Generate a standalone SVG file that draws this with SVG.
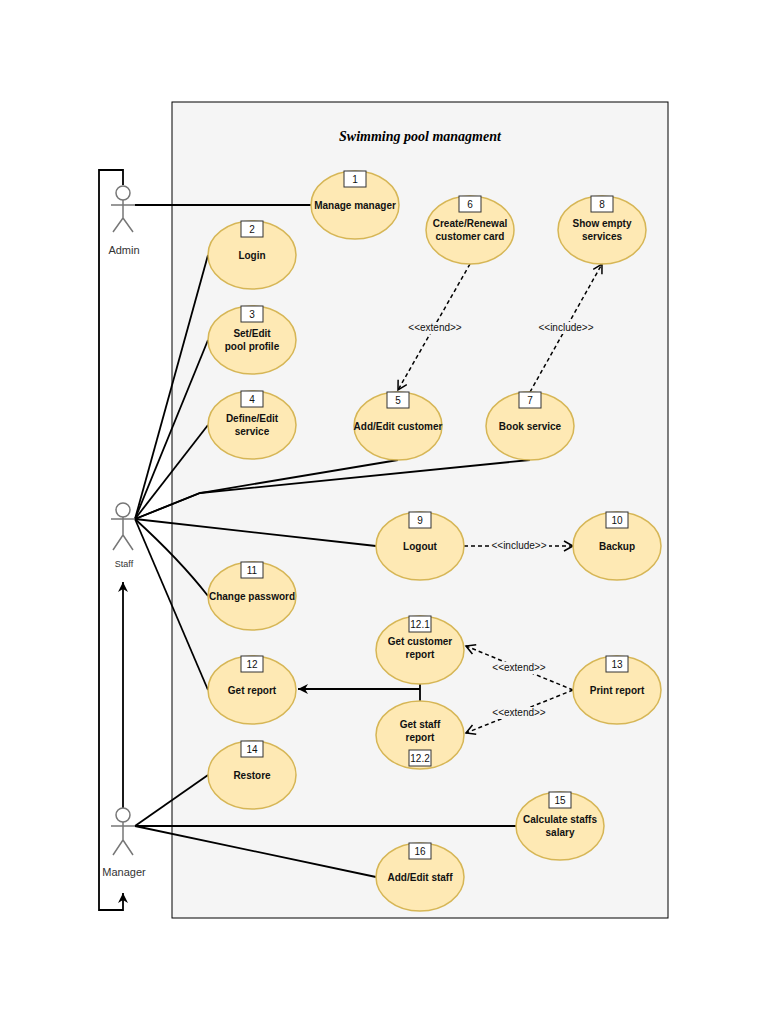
<svg xmlns="http://www.w3.org/2000/svg" width="768" height="1024" viewBox="0 0 768 1024">
<style>
.uc{fill:#ffe6a8;fill-opacity:0.85;stroke:#d6b656;stroke-width:1.5}
.nb{fill:#fff;stroke:#333;stroke-width:1}
.t{font-family:"Liberation Sans",Arial,sans-serif;font-size:10px;font-weight:bold;fill:#111;text-anchor:middle}
.n{font-family:"Liberation Sans",Arial,sans-serif;font-size:10px;fill:#111;text-anchor:middle}
.l{fill:none;stroke:#000;stroke-width:1.8}
.d{fill:none;stroke:#000;stroke-width:1.5;stroke-dasharray:4,3}
.a{stroke:#777;stroke-width:1.5;fill:none}
.al{font-family:"Liberation Sans",Arial,sans-serif;font-size:10px;fill:#111;text-anchor:middle}
</style>
<defs>
<marker id="open" markerWidth="12" markerHeight="12" refX="10" refY="6" orient="auto" markerUnits="userSpaceOnUse"><path d="M1,1 L10,6 L1,11" fill="none" stroke="#000" stroke-width="1.5"/></marker>
<marker id="fill" markerWidth="12" markerHeight="12" refX="10" refY="6" orient="auto" markerUnits="userSpaceOnUse"><path d="M0,1 L10,6 L0,11 L3,6 Z" fill="#000"/></marker>
</defs>
<rect x="172" y="102" width="496" height="816" fill="#f5f5f5" stroke="#000" stroke-width="1"/>
<text x="420" y="141" font-family="Liberation Serif,serif" font-size="14" font-weight="bold" font-style="italic" text-anchor="middle">Swimming pool managment</text>
<g id="connectors">
<path class="l" d="M123,185 V170 H99 V910 H123 V893" marker-end="url(#fill)"/>
<path class="l" d="M123,808 V582" marker-end="url(#fill)"/>
<path class="l" d="M135,205 H311"/>
<path class="l" d="M135,519 L208,255"/>
<path class="l" d="M135,519 L208,340"/>
<path class="l" d="M135,519 L208,425"/>
<path class="l" d="M135,519 L200,493 L398,460"/>
<path class="l" d="M135,519 L200,493 L530,460"/>
<path class="l" d="M135,519 L376,546"/>
<path class="l" d="M135,519 Q180,560 208,596"/>
<path class="l" d="M135,519 L208,690"/>
<path class="l" d="M135,826 L208,775"/>
<path class="l" d="M135,826 L516,826"/>
<path class="l" d="M135,826 L376,877"/>
<path class="l" d="M420,684 V701 M420,689 H298" marker-end="url(#fill)"/>
<path class="d" d="M470,264 L398,390" marker-end="url(#open)"/>
<path class="d" d="M530,392 L602,264" marker-end="url(#open)"/>
<path class="d" d="M464,546 L573,546" marker-end="url(#open)"/>
<path class="d" d="M573,690 L466,646" marker-end="url(#open)"/>
<path class="d" d="M573,690 L466,733" marker-end="url(#open)"/>
<rect x="405" y="322" width="60" height="12" fill="#f5f5f5"/><text class="al" x="435" y="331">&lt;&lt;extend&gt;&gt;</text>
<rect x="536" y="322" width="60" height="12" fill="#f5f5f5"/><text class="al" x="566" y="331">&lt;&lt;include&gt;&gt;</text>
<rect x="489" y="540" width="60" height="12" fill="#f5f5f5"/><text class="al" x="519" y="549">&lt;&lt;include&gt;&gt;</text>
<rect x="489" y="662" width="60" height="12" fill="#f5f5f5"/><text class="al" x="519" y="671">&lt;&lt;extend&gt;&gt;</text>
<rect x="489" y="707" width="60" height="12" fill="#f5f5f5"/><text class="al" x="519" y="716">&lt;&lt;extend&gt;&gt;</text>
</g>
<g id="admin"><circle class="a" cx="123" cy="193" r="7" fill="#fff"/><path class="a" d="M123,200 V218 M111,205 H135 M123,218 L113,232 M123,218 L133,232"/><text x="124" y="254" font-family="Liberation Sans,Arial,sans-serif" font-size="11" text-anchor="middle" fill="#333">Admin</text></g>
<g id="staff"><circle class="a" cx="123" cy="510" r="7" fill="#fff"/><path class="a" d="M123,517 V535 M111,519 H135 M123,535 L113,550 M123,535 L133,550"/><text x="124" y="567" font-family="Liberation Sans,Arial,sans-serif" font-size="9" text-anchor="middle" fill="#333">Staff</text></g>
<g id="manager"><circle class="a" cx="123" cy="815" r="7" fill="#fff"/><path class="a" d="M123,822 V840 M111,826 H135 M123,840 L113,855 M123,840 L133,855"/><text x="124" y="876" font-family="Liberation Sans,Arial,sans-serif" font-size="11" text-anchor="middle" fill="#333">Manager</text></g>
<g id="uc1"><ellipse class="uc" cx="355" cy="205" rx="44" ry="34"/><rect class="nb" x="344" y="171" width="22" height="16"/><text class="n" x="355" y="183">1</text><text class="t" x="355" y="209">Manage manager</text></g>
<g id="uc2"><ellipse class="uc" cx="252" cy="255" rx="44" ry="34"/><rect class="nb" x="241" y="221" width="22" height="16"/><text class="n" x="252" y="233">2</text><text class="t" x="252" y="259">Login</text></g>
<g id="uc3"><ellipse class="uc" cx="252" cy="340" rx="44" ry="34"/><rect class="nb" x="241" y="306" width="22" height="16"/><text class="n" x="252" y="318">3</text><text class="t" x="252" y="337">Set/Edit</text><text class="t" x="252" y="350">pool profile</text></g>
<g id="uc4"><ellipse class="uc" cx="252" cy="425" rx="44" ry="34"/><rect class="nb" x="241" y="391" width="22" height="16"/><text class="n" x="252" y="403">4</text><text class="t" x="252" y="422">Define/Edit</text><text class="t" x="252" y="435">service</text></g>
<g id="uc5"><ellipse class="uc" cx="398" cy="426" rx="44" ry="34"/><rect class="nb" x="387" y="392" width="22" height="16"/><text class="n" x="398" y="404">5</text><text class="t" x="398" y="430">Add/Edit customer</text></g>
<g id="uc6"><ellipse class="uc" cx="470" cy="230" rx="44" ry="34"/><rect class="nb" x="459" y="196" width="22" height="16"/><text class="n" x="470" y="208">6</text><text class="t" x="470" y="227">Create/Renewal</text><text class="t" x="470" y="240">customer card</text></g>
<g id="uc7"><ellipse class="uc" cx="530" cy="426" rx="44" ry="34"/><rect class="nb" x="519" y="392" width="22" height="16"/><text class="n" x="530" y="404">7</text><text class="t" x="530" y="430">Book service</text></g>
<g id="uc8"><ellipse class="uc" cx="602" cy="230" rx="44" ry="34"/><rect class="nb" x="591" y="196" width="22" height="16"/><text class="n" x="602" y="208">8</text><text class="t" x="602" y="227">Show empty</text><text class="t" x="602" y="240">services</text></g>
<g id="uc9"><ellipse class="uc" cx="420" cy="546" rx="44" ry="34"/><rect class="nb" x="409" y="512" width="22" height="16"/><text class="n" x="420" y="524">9</text><text class="t" x="420" y="550">Logout</text></g>
<g id="uc10"><ellipse class="uc" cx="617" cy="546" rx="44" ry="34"/><rect class="nb" x="606" y="512" width="22" height="16"/><text class="n" x="617" y="524">10</text><text class="t" x="617" y="550">Backup</text></g>
<g id="uc11"><ellipse class="uc" cx="252" cy="596" rx="44" ry="34"/><rect class="nb" x="241" y="562" width="22" height="16"/><text class="n" x="252" y="574">11</text><text class="t" x="252" y="600">Change password</text></g>
<g id="uc12"><ellipse class="uc" cx="252" cy="690" rx="44" ry="34"/><rect class="nb" x="241" y="656" width="22" height="16"/><text class="n" x="252" y="668">12</text><text class="t" x="252" y="694">Get report</text></g>
<g id="uc12_1"><ellipse class="uc" cx="420" cy="650" rx="44" ry="34"/><rect class="nb" x="409" y="616" width="22" height="16"/><text class="n" x="420" y="628">12.1</text><text class="t" x="420" y="645">Get customer</text><text class="t" x="420" y="658">report</text></g>
<g id="uc12_2"><ellipse class="uc" cx="420" cy="735" rx="44" ry="34"/><rect class="nb" x="409" y="750" width="22" height="16"/><text class="n" x="420" y="762">12.2</text><text class="t" x="420" y="728">Get staff</text><text class="t" x="420" y="741">report</text></g>
<g id="uc13"><ellipse class="uc" cx="617" cy="690" rx="44" ry="34"/><rect class="nb" x="606" y="656" width="22" height="16"/><text class="n" x="617" y="668">13</text><text class="t" x="617" y="694">Print report</text></g>
<g id="uc14"><ellipse class="uc" cx="252" cy="775" rx="44" ry="34"/><rect class="nb" x="241" y="741" width="22" height="16"/><text class="n" x="252" y="753">14</text><text class="t" x="252" y="779">Restore</text></g>
<g id="uc15"><ellipse class="uc" cx="560" cy="826" rx="44" ry="34"/><rect class="nb" x="549" y="792" width="22" height="16"/><text class="n" x="560" y="804">15</text><text class="t" x="560" y="823">Calculate staffs</text><text class="t" x="560" y="836">salary</text></g>
<g id="uc16"><ellipse class="uc" cx="420" cy="877" rx="44" ry="34"/><rect class="nb" x="409" y="843" width="22" height="16"/><text class="n" x="420" y="855">16</text><text class="t" x="420" y="881">Add/Edit staff</text></g>
</svg>
